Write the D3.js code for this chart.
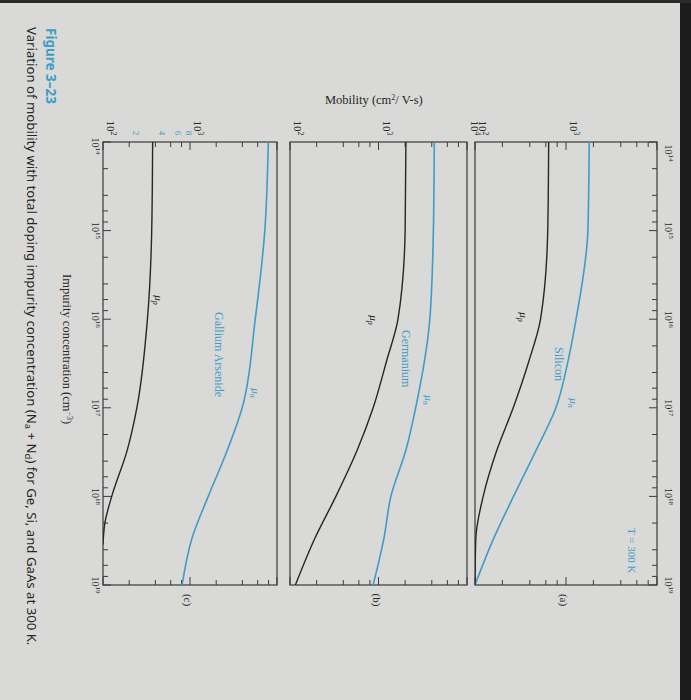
<!DOCTYPE html>
<html><head><meta charset="utf-8">
<script src="https://cdn.jsdelivr.net/npm/d3@7"></script>
<style>body{margin:0;background:#d8d8d6;}svg{display:block}</style>
</head><body><svg id="c" width="691" height="700"></svg>
<script>
// Data (concentration in cm^-3, mobility in cm^2/V-s)
const panelNames = ["Gallium Arsenide", "Germanium", "Silicon"];
const panelTags = ["(c)", "(b)", "(a)"];
const concTicks = [1e14, 1e15, 1e16, 1e17, 1e18, 1e19];
const concTickLabels = ["14", "15", "16", "17", "18", "19"];
const mobMinor = [2, 4, 6, 8];

const siConcN = [1e14, 1e15, 1e16, 3e16, 1e17, 3e17, 1e18, 3e18, 1e19];
const siMuN   = [1800, 1740, 1290, 1050, 775, 470, 265, 160, 100];
const siConcP = [1e14, 1e15, 1e16, 3e16, 1e17, 3e17, 1e18, 3e18, 1e19];
const siMuP   = [645, 630, 525, 390, 263, 174, 123, 102, 100];

const geConcN = [1e14, 1e15, 1e16, 1e17, 3e17, 1e18, 3e18, 1e19];
const geMuN   = [4270, 4170, 3800, 2630, 2040, 1380, 1150, 870];
const geConcP = [1e14, 1e15, 1e16, 3e16, 1e17, 3e17, 1e18, 3e18, 1e19];
const geMuP   = [2040, 2000, 1660, 1230, 870, 575, 330, 190, 115];

const gaConcN = [1e14, 1e15, 1e16, 1e17, 3e17, 1e18, 3e18, 1e19];
const gaMuN   = [7940, 7240, 5620, 3980, 2690, 1620, 1050, 810];
const gaConcP = [1e14, 1e15, 1e16, 1e17, 3e17, 1e18, 2e18, 3.5e18];
const gaMuP   = [372, 363, 324, 245, 190, 126, 105, 100];

const svg = d3.select("#c");
const BLUE = "#3f9cc6", INK = "#262626";
const serif = "'Liberation Serif','DejaVu Serif',serif";
const sans = "'Noto Sans','Open Sans',sans-serif";

svg.append("rect").attr("x",0).attr("y",0).attr("width",691).attr("height",700).attr("fill","#d9d9d7");
svg.append("rect").attr("x",680).attr("y",0).attr("width",11).attr("height",700).attr("fill","#1c1c1c");
svg.append("rect").attr("x",0).attr("y",0).attr("width",691).attr("height",3).attr("fill","#2a2a2a");

const yTop = 142, yBot = 585;
const y = d3.scaleLog().domain([1e14, 1e19]).range([yTop, yBot]);
const panels = [
  {x0:103, x1:277, n:[gaConcN,gaMuN], p:[gaConcP,gaMuP], labels:["2","3"], minorLab:true,
   name:[215,312], mun:[252,393], mup:[155,300]},
  {x0:290, x1:467, n:[geConcN,geMuN], p:[geConcP,geMuP], labels:["2","3","4"],
   name:[402,330], mun:[425,400], mup:[370,320]},
  {x0:475, x1:657, n:[siConcN,siMuN], p:[siConcP,siMuP], labels:["2","3"],
   name:[555,347], mun:[570,403], mup:[520,317]}
];

function rotText(g, x, yy, txt, opts={}) {
  return g.append("text").attr("transform", `translate(${x},${yy}) rotate(90)`)
    .attr("font-family", opts.family || serif).attr("font-size", opts.size || 11)
    .attr("fill", opts.fill || INK).attr("text-anchor", opts.anchor || "middle")
    .attr("font-style", opts.italic ? "italic" : null).attr("font-weight", opts.bold ? "bold" : null);
}
function pow10(g, x, yy, exp, opts={}) {
  const t = rotText(g, x, yy, "", opts);
  t.append("tspan").text("10");
  t.append("tspan").attr("dy", -4).attr("font-size", (opts.size||11)*0.7).text(exp);
}

panels.forEach((P, i) => {
  const g = svg.append("g");
  const x = d3.scaleLog().domain([100, 10000]).range([P.x0, P.x1]);
  g.append("rect").attr("x",P.x0).attr("y",yTop).attr("width",P.x1-P.x0).attr("height",yBot-yTop)
    .attr("fill","none").attr("stroke","#3a3a3a").attr("stroke-width",1.2);
  const mt = [];
  [100,1000].forEach(d => { [1].concat(mobMinor).forEach(m => mt.push(d*m)); });
  mt.push(10000);
  mt.forEach(v => {
    const major = [100,1000,10000].includes(v);
    const L = major ? 8 : 5;
    g.append("line").attr("x1",x(v)).attr("x2",x(v)).attr("y1",yTop).attr("y2",yTop+L).attr("stroke","#3a3a3a");
    g.append("line").attr("x1",x(v)).attr("x2",x(v)).attr("y1",yBot).attr("y2",yBot-L).attr("stroke","#3a3a3a");
  });
  P.labels.forEach(e => pow10(g, x(Math.pow(10,+e))+4, 128, e, {size:11}));
  if (P.minorLab) mobMinor.forEach(m => rotText(g, x(100*m)+4, 133, String(m), {size:9, fill:BLUE}).text(m));
  const ct = [];
  concTicks.forEach((d,k) => { ct.push([d,true]); if (k<5) mobMinor.forEach(m => ct.push([d*m,false])); });
  ct.forEach(([v,major]) => {
    const L = major ? 8 : 5;
    if (i === 0) g.append("line").attr("x1",P.x0).attr("x2",P.x0+L).attr("y1",y(v)).attr("y2",y(v)).attr("stroke","#3a3a3a");
    if (i === 2) g.append("line").attr("x1",P.x1).attr("x2",P.x1-L).attr("y1",y(v)).attr("y2",y(v)).attr("stroke","#3a3a3a");
  });
  if (i === 0) concTicks.forEach((v,k) => pow10(g, 92, Math.min(Math.max(y(v), yTop+4), yBot+8), concTickLabels[k], {size:10}));
  if (i === 2) concTicks.forEach((v,k) => pow10(g, 665, Math.min(Math.max(y(v), yTop+11), yBot+10), concTickLabels[k], {size:10}));
  const line = d3.line().x(d => x(d[1])).y(d => y(d[0])).curve(d3.curveMonotoneY);
  const clip = "clip"+i;
  g.append("clipPath").attr("id",clip).append("rect").attr("x",P.x0).attr("y",yTop).attr("width",P.x1-P.x0).attr("height",yBot-yTop);
  g.append("path").attr("clip-path",`url(#${clip})`).attr("d", line(d3.zip(P.n[0],P.n[1])))
    .attr("fill","none").attr("stroke",BLUE).attr("stroke-width",1.6);
  g.append("path").attr("clip-path",`url(#${clip})`).attr("d", line(d3.zip(P.p[0],P.p[1])))
    .attr("fill","none").attr("stroke",INK).attr("stroke-width",1.4);
  rotText(g, P.name[0], P.name[1], panelNames[i], {size:12, fill:BLUE, anchor:"start"}).text(panelNames[i]);
  const tn = rotText(g, P.mun[0], P.mun[1], "", {size:11, fill:BLUE, italic:true});
  tn.append("tspan").text("μ"); tn.append("tspan").attr("dy",2).attr("font-size",8).text("n");
  const tp = rotText(g, P.mup[0], P.mup[1], "", {size:11, fill:INK, italic:true});
  tp.append("tspan").text("μ"); tp.append("tspan").attr("dy",2).attr("font-size",8).text("p");
  rotText(g, (P.x0+P.x1)/2-6, 600, panelTags[i], {size:11}).text(panelTags[i]);
});

rotText(svg, 628, 528, "T = 300 K", {size:11, fill:BLUE, anchor:"start"}).text("T = 300 K");

const mt = svg.append("text").attr("x",325).attr("y",104).attr("font-family",serif).attr("font-size",12.5).attr("fill",INK);
mt.append("tspan").text("Mobility (cm");
mt.append("tspan").attr("dy",-4).attr("font-size",8).text("2");
mt.append("tspan").attr("dy",4).text("/ V-s)");
const ct2 = rotText(svg, 63, 274, "", {size:12.5, anchor:"start"});
ct2.append("tspan").text("Impurity concentration (cm");
ct2.append("tspan").attr("dy",-4).attr("font-size",8).text("−3");
ct2.append("tspan").attr("dy",4).text(")");

rotText(svg, 46, 28, "Figure 3–23", {size:13.5, fill:BLUE, bold:true, anchor:"start", family:sans}).text("Figure 3–23");
const cap = rotText(svg, 27, 27, "", {size:13.2, anchor:"start", family:sans});
cap.append("tspan").text("Variation of mobility with total doping impurity concentration (N");
cap.append("tspan").attr("dy",2).attr("font-size",9.5).text("a");
cap.append("tspan").attr("dy",-2).text(" + N");
cap.append("tspan").attr("dy",2).attr("font-size",9.5).text("d");
cap.append("tspan").attr("dy",-2).text(") for Ge, Si, and GaAs at 300 K.");
</script></body></html>
